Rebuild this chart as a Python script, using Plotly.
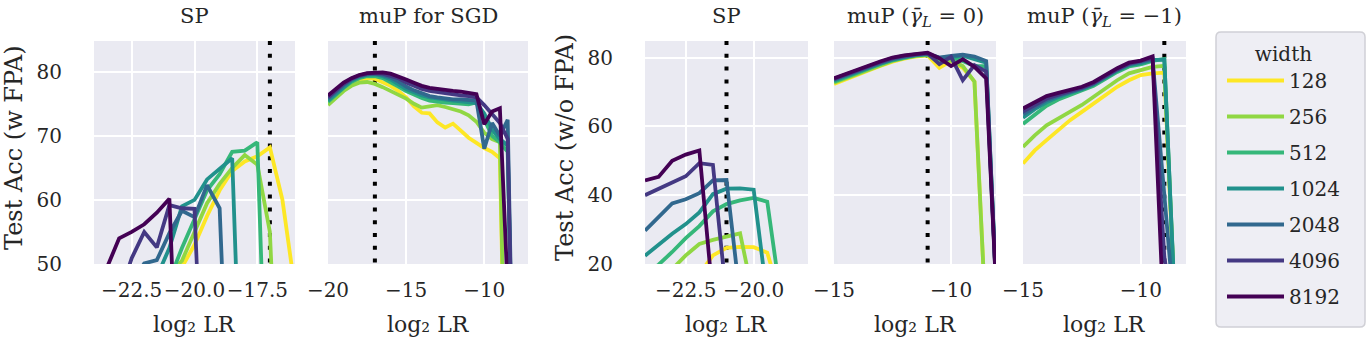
import plotly.graph_objects as go

N = None
W, H = 1369, 340
FONT = "DejaVu Serif"
TXT = "#262626"

WIDTHS = ["128", "256", "512", "1024", "2048", "4096", "8192"]
COLORS = ["#fde725", "#90d743", "#35b779", "#21918c", "#31688e", "#443983", "#440154"]

TITLES = ["SP", "muP for SGD", "SP",
          "muP (<i>γ̄</i><sub><i>L</i></sub> = 0)",
          "muP (<i>γ̄</i><sub><i>L</i></sub> = −1)"]
Y_TITLES = ["Test Acc (w FPA)", "Test Acc (w/o FPA)"]
X_TITLE = "log₂ LR"
OPT_LR = [-17.0, -17.0, -21.0, -11.0, -9.0]

# ---- panel 1 : SP, with FPA
X_SP_FPA = [-24.0, -23.5, -23.0, -22.5, -22.0, -21.5, -21.0, -20.5, -20.0,
            -19.5, -19.0, -18.5, -18.0, -17.5, -17.0, -16.5, -16.0]
ACC_SP_FPA = {
    "128":  [N, N, N, N, N, N, N, 49.5, 53.0, 57.5, 61.5, 64.5, 66.0, 66.8, 68.2, 60.0, 46.0],
    "256":  [N, N, N, N, N, N, 48.5, 50.5, 55.0, 59.5, 62.5, 65.0, 67.0, 65.5, 55.0, 10.0, N],
    "512":  [N, N, N, N, N, N, 47.5, 52.5, 57.0, 61.5, 64.0, 67.5, 67.7, 69.0, 10.0, N, N],
    "1024": [N, N, N, N, N, 48.0, 52.5, 59.0, 60.0, 63.2, 64.8, 66.5, 10.0, N, N, N, N],
    "2048": [N, N, N, 47.0, 50.1, 50.6, 54.8, 58.3, 57.3, 62.3, 58.7, 10.0, N, N, N, N, N],
    "4096": [N, N, 45.0, 50.9, 55.0, 52.6, 59.2, 58.7, 58.6, 10.0, N, N, N, N, N, N, N],
    "8192": [46.0, 49.3, 54.0, 55.0, 56.2, 58.0, 60.2, 10.0, N, N, N, N, N, N, N, N, N],
}

# ---- panel 2 : muP for SGD, with FPA
X_MUP_SGD = [-20.0, -19.5, -19.0, -18.5, -18.0, -17.5, -17.0, -16.5, -16.0, -15.5,
             -15.0, -14.5, -14.0, -13.5, -13.0, -12.5, -12.0, -11.5, -11.0, -10.5,
             -10.0, -9.5, -9.0, -8.5, -8.0]
ACC_MUP_SGD = {
    "128":  [75.2, 76.4, 77.4, 78.1, 78.6, 79.0, 78.9, 78.3, 77.8, 77.0, 76.0, 74.6, 73.6,
             73.5, 72.1, 71.3, 71.9, 70.8, 69.7, 68.9, 68.1, 67.5, 66.5, 10.0, N],
    "256":  [74.8, 76.0, 77.0, 77.8, 78.3, 78.4, 78.1, 77.6, 77.0, 76.4, 75.8, 75.0, 74.4,
             74.6, 74.8, 74.5, 74.2, 73.8, 73.2, 72.2, 70.5, 69.5, 69.0, 10.0, N],
    "512":  [75.3, 76.4, 77.5, 78.4, 79.0, 79.3, 79.3, 79.0, 78.4, 77.7, 77.0, 76.4, 75.9,
             75.5, 75.3, 75.2, 75.1, 75.0, 74.9, 75.2, 72.5, 70.0, 69.0, 67.5, 10.0],
    "1024": [75.5, 76.6, 77.7, 78.6, 79.2, 79.5, 79.6, 79.3, 78.8, 78.1, 77.3, 76.8, 76.3,
             76.0, 75.8, 75.6, 75.5, 75.4, 75.3, 75.1, 73.5, 71.0, 69.5, 68.5, 10.0],
    "2048": [75.8, 76.9, 77.9, 78.8, 79.3, 79.6, 79.7, 79.5, 79.1, 78.5, 77.7, 77.1, 76.6,
             76.2, 76.0, 75.8, 75.7, 75.7, 75.6, 75.5, 68.0, 72.0, 70.0, 72.5, 10.0],
    "4096": [76.0, 77.1, 78.1, 78.9, 79.4, 79.7, 79.8, 79.7, 79.4, 79.0, 78.3, 77.8, 77.3,
             77.0, 76.8, 76.6, 76.4, 76.3, 76.2, 76.0, 74.8, 73.5, 72.0, 69.5, 10.0],
    "8192": [76.3, 77.3, 78.3, 79.0, 79.5, 79.8, 79.9, 79.9, 79.7, 79.3, 78.8, 78.3, 77.8,
             77.5, 77.3, 77.2, 77.0, 76.9, 76.7, 76.5, 71.8, 73.8, 74.3, 46.0, 10.0],
}

# ---- panel 3 : SP, without FPA
X_SP_NOFPA = [-24.0, -23.5, -23.0, -22.5, -22.0, -21.5, -21.0, -20.5, -20.0,
              -19.5, -19.0, -18.5, -18.0]
ACC_SP_NOFPA = {
    "128":  [N, N, N, N, 17.0, 22.5, 24.7, 25.0, 24.9, 23.3, 10.0, N, N],
    "256":  [N, 14.0, 18.5, 22.5, 25.8, 27.0, 28.0, 28.9, 10.0, N, N, N, N],
    "512":  [17.0, 19.8, 23.5, 27.5, 31.0, 35.3, 37.4, 38.5, 39.2, 38.1, 10.0, N, N],
    "1024": [22.4, 25.6, 28.8, 31.6, 35.0, 40.3, 41.9, 42.0, 41.6, 10.0, N, N, N],
    "2048": [29.7, 33.7, 37.6, 38.8, 40.6, 44.3, 44.4, 10.0, N, N, N, N, N],
    "4096": [40.0, 41.8, 43.6, 45.5, 49.3, 48.8, 10.0, N, N, N, N, N, N],
    "8192": [44.3, 45.3, 50.0, 51.8, 53.0, 10.0, N, N, N, N, N, N, N],
}

# ---- panels 4 and 5 : muP, without FPA
X_MUP = [-15.0, -14.5, -14.0, -13.5, -13.0, -12.5, -12.0, -11.5, -11.0,
         -10.5, -10.0, -9.5, -9.0, -8.5, -8.0]
ACC_MUP_G0 = {
    "128":  [72.3, 73.7, 75.0, 76.3, 77.6, 78.8, 79.7, 80.3, 80.6, 77.0, 79.0, 77.0, 73.0, 2.0, N],
    "256":  [72.7, 74.0, 75.3, 76.6, 77.9, 79.0, 79.8, 80.4, 80.7, 78.5, 79.2, 77.5, 73.0, 2.0, N],
    "512":  [73.0, 74.3, 75.6, 76.9, 78.1, 79.2, 80.0, 80.6, 80.9, 79.5, 80.0, 79.0, 77.5, 77.5, 2.0],
    "1024": [73.3, 74.6, 75.9, 77.1, 78.3, 79.4, 80.2, 80.7, 81.0, 79.9, 80.3, 80.5, 79.5, 78.5, 2.0],
    "2048": [73.6, 74.9, 76.1, 77.3, 78.5, 79.6, 80.3, 80.8, 81.1, 80.0, 80.5, 80.8, 80.3, 79.0, 2.0],
    "4096": [73.8, 75.1, 76.3, 77.5, 78.7, 79.8, 80.5, 80.9, 81.2, 78.1, 80.2, 73.4, 77.8, 75.9, 2.0],
    "8192": [74.0, 75.3, 76.5, 77.7, 78.9, 80.0, 80.6, 81.0, 81.4, 79.8, 77.5, 79.5, 77.3, 73.9, 2.0],
}
ACC_MUP_GM1 = {
    "128":  [49.2, 53.0, 56.0, 58.9, 61.8, 64.2, 66.6, 69.1, 71.5, 73.4, 74.9, 75.4, 75.6, 0.0, N],
    "256":  [54.0, 57.4, 60.3, 62.3, 64.2, 66.2, 68.6, 71.0, 73.4, 75.4, 76.4, 77.3, 77.6, 0.0, N],
    "512":  [60.7, 63.5, 66.0, 67.8, 69.2, 70.4, 71.8, 73.8, 75.8, 77.4, 78.0, 79.0, 79.6, 0.0, N],
    "1024": [62.5, 65.0, 67.0, 68.5, 69.7, 70.8, 72.2, 74.2, 76.2, 77.8, 78.4, 79.3, 79.4, 0.0, N],
    "2048": [63.5, 65.7, 67.6, 68.9, 70.0, 71.0, 72.4, 74.4, 76.4, 78.0, 78.7, 79.5, 40.0, 0.0, N],
    "4096": [64.3, 66.3, 68.1, 69.2, 70.2, 71.2, 72.6, 74.6, 76.6, 78.2, 78.9, 79.8, 22.0, 0.0, N],
    "8192": [65.2, 67.1, 68.8, 69.7, 70.5, 71.5, 72.9, 74.9, 76.9, 78.5, 79.1, 80.3, 0.0, N, N],
}

X_RANGES = [[-24, -16], [-20, -7.2], [-24, -18], [-15, -8.08], [-15, -8.08]]
Y_RANGES = [[50, 84.8], [50, 84.8], [20, 84.8], [20, 84.8], [20, 84.8]]
X_TICKS = [[-22.5, -20.0, -17.5], [-20, -15, -10], [-22.5, -20.0], [-15, -10], [-15, -10]]
X_TICKTEXT = [["−22.5", "−20.0", "−17.5"], ["−20", "−15", "−10"], ["−22.5", "−20.0"],
              ["−15", "−10"], ["−15", "−10"]]
Y_TICKS = [[50, 60, 70, 80], [50, 60, 70, 80], [20, 40, 60, 80], [20, 40, 60, 80], [20, 40, 60, 80]]
Y_LABELLED = [True, False, True, False, False]

PANELS = [(X_SP_FPA, ACC_SP_FPA), (X_MUP_SGD, ACC_MUP_SGD), (X_SP_NOFPA, ACC_SP_NOFPA),
          (X_MUP, ACC_MUP_G0), (X_MUP, ACC_MUP_GM1)]

# layout geometry (pixels)
PANEL_PX = [(94, 295), (328, 528), (645, 808), (834, 996), (1023, 1186)]
TOP_PX, BOT_PX = 41, 264


def px(x):
    return x / W


def py(y):
    return 1 - y / H


fig = go.Figure()
layout = {}
for k, ((xs, accs), (x0, x1)) in enumerate(zip(PANELS, PANEL_PX)):
    sfx = "" if k == 0 else str(k + 1)
    xa, ya = "x" + sfx, "y" + sfx
    # optimal LR marker (drawn first, below curves)
    fig.add_trace(go.Scatter(
        x=[OPT_LR[k], OPT_LR[k]], y=[Y_RANGES[k][1], Y_RANGES[k][0]],
        mode="lines", line=dict(color="black", width=4, dash="4px,8.8px"),
        showlegend=False, hoverinfo="skip", xaxis=xa, yaxis=ya))
    for w, c in zip(WIDTHS, COLORS):
        fig.add_trace(go.Scatter(
            x=xs, y=accs[w], mode="lines", name=w, legendgroup=w,
            showlegend=(k == 0), line=dict(color=c, width=3.8),
            xaxis=xa, yaxis=ya))
    layout["xaxis" + sfx] = dict(
        domain=[px(x0), px(x1)], range=X_RANGES[k], anchor=ya,
        tickmode="array", tickvals=X_TICKS[k], ticktext=X_TICKTEXT[k], tickangle=0,
        showgrid=True, gridcolor="white", gridwidth=2, zeroline=False, showline=False,
        ticks="", ticklabelstandoff=12, automargin=False,
        tickfont=dict(family=FONT, size=20, color=TXT))
    layout["yaxis" + sfx] = dict(
        domain=[py(BOT_PX), py(TOP_PX)], range=Y_RANGES[k], anchor=xa,
        tickmode="array", tickvals=Y_TICKS[k], showticklabels=Y_LABELLED[k],
        showgrid=True, gridcolor="white", gridwidth=2, zeroline=False, showline=False,
        ticks="", ticklabelstandoff=31, automargin=False,
        tickfont=dict(family=FONT, size=20, color=TXT))

annotations = []
for k, (x0, x1) in enumerate(PANEL_PX):
    cx = px((x0 + x1) / 2)
    annotations.append(dict(text=TITLES[k], x=cx, y=py(2), xref="paper", yref="paper",
                            showarrow=False, xanchor="center", yanchor="top",
                            font=dict(family=FONT, size=21, color=TXT)))
    annotations.append(dict(text=X_TITLE, x=cx, y=py(324), xref="paper", yref="paper",
                            showarrow=False, xanchor="center", yanchor="middle",
                            font=dict(family=FONT, size=22, color=TXT)))
for txt, xp in zip(Y_TITLES, [14, 565]):
    annotations.append(dict(text=txt, x=px(xp), y=py(148),
                            xref="paper", yref="paper", showarrow=False, textangle=-90,
                            xanchor="center", yanchor="middle",
                            font=dict(family=FONT, size=24, color=TXT)))

# legend frame
lx0, lx1, ly0, ly1, r = 1216, 1365, 32, 327, 5
frame = (f"M{px(lx0 + r)},{py(ly0)} L{px(lx1 - r)},{py(ly0)} "
         f"Q{px(lx1)},{py(ly0)} {px(lx1)},{py(ly0 + r)} L{px(lx1)},{py(ly1 - r)} "
         f"Q{px(lx1)},{py(ly1)} {px(lx1 - r)},{py(ly1)} L{px(lx0 + r)},{py(ly1)} "
         f"Q{px(lx0)},{py(ly1)} {px(lx0)},{py(ly1 - r)} L{px(lx0)},{py(ly0 + r)} "
         f"Q{px(lx0)},{py(ly0)} {px(lx0 + r)},{py(ly0)} Z")

fig.update_layout(
    width=W, height=H, margin=dict(l=0, r=0, t=0, b=0),
    paper_bgcolor="white", plot_bgcolor="#EAEAF2",
    font=dict(family=FONT, size=20, color=TXT),
    annotations=annotations,
    shapes=[dict(type="path", path=frame, xref="paper", yref="paper",
                 fillcolor="#EEEEF4", line=dict(color="#D0D0D6", width=1.5), layer="below")],
    legend=dict(x=px(1222), xanchor="left", y=py(35), yanchor="top",
                bgcolor="rgba(0,0,0,0)", borderwidth=0, itemwidth=57, tracegroupgap=7,
                font=dict(family=FONT, size=20, color=TXT),
                title=dict(text="width", side="top center",
                           font=dict(family=FONT, size=20, color=TXT))),
    showlegend=True,
    **layout,
)

fig.write_html("out.html", config={"displayModeBar": False},
               post_script="document.body.style.margin='0px';")
